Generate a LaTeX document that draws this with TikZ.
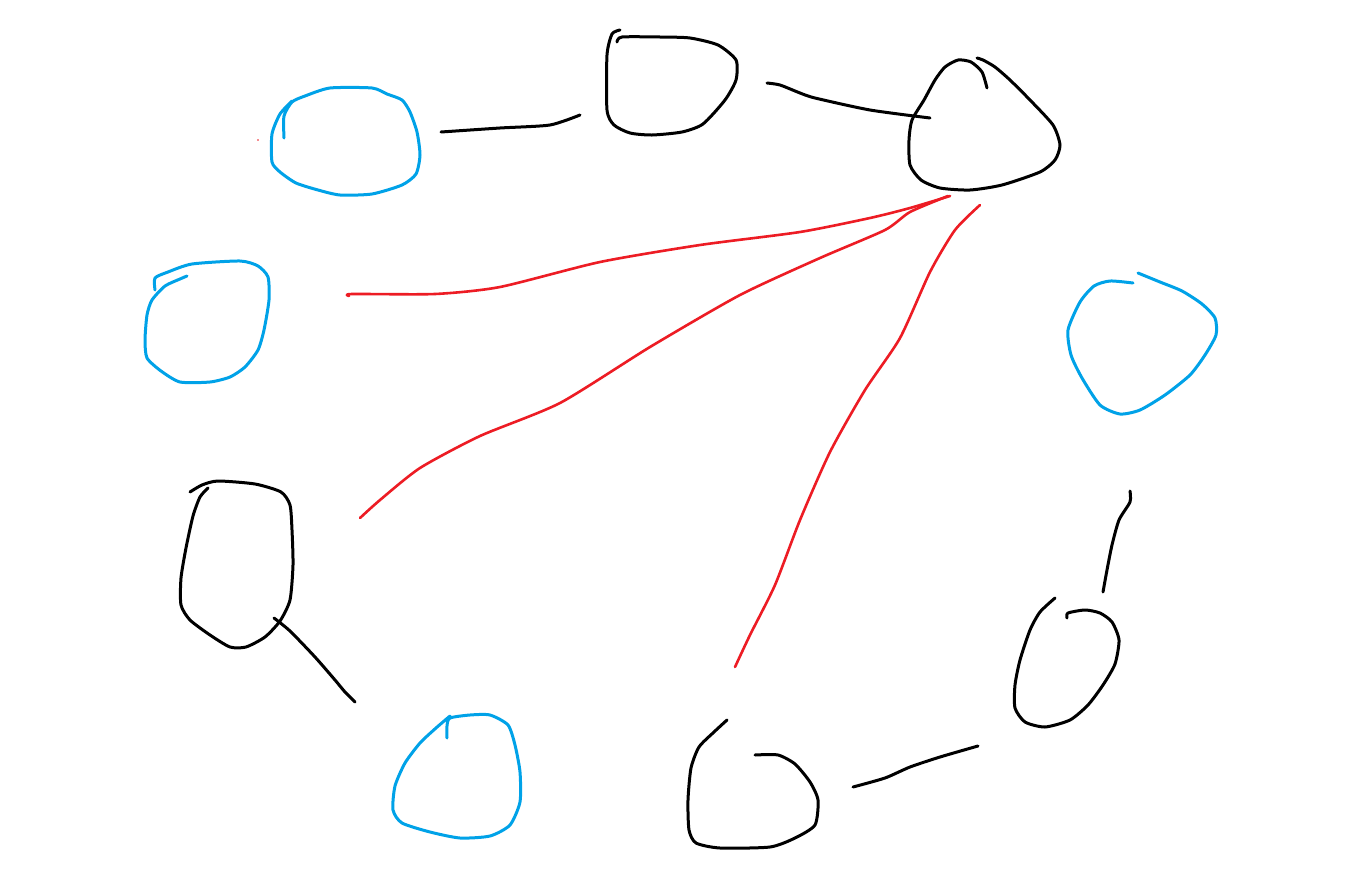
\documentclass[tikz,border=0pt]{standalone}
\definecolor{inkblue}{RGB}{0,162,232}
\definecolor{inkred}{RGB}{237,28,36}
\tikzset{
  ink/.style={line width=3pt, line cap=round, line join=round},
  blueblob/.style={ink, draw=inkblue},
  blackblob/.style={ink, draw=black},
  blackwire/.style={ink, draw=black},
  redwire/.style={line width=2.6pt, line cap=round, line join=round, draw=inkred},
}
\begin{document}
\begin{tikzpicture}[x=1pt,y=-1pt]
\useasboundingbox (0,0) rectangle (1358,881);
\fill[white] (0,0) rectangle (1358,881);

% blob 1 (blue, top left)
\draw[blueblob] plot[smooth, tension=0.4] coordinates {(284,138) (284,116) (292,102) (305,96) (330,88) (372,88) (387,94) (402,100) (410,112) (417,132) (420,155) (416,174) (402,185) (372,194) (340,195) (318,190) (296,183) (280,172) (272,162) (272,134) (280,114) (292,101)};
\fill[inkred] (258,140) circle (0.8);
% blob 2 (black, top middle)
\draw[blackblob] plot[smooth, tension=0.4] coordinates {(617,42) (622,37) (660,37) (690,38) (718,45) (736,60) (736,80) (725,100) (703,124) (682,132) (652,135) (630,133) (614,125) (607,110) (607,55) (612,34) (620,30)};
% blob 3 (black, top right)
\draw[blackblob] plot[smooth, tension=0.4] coordinates {(987,88) (982,72) (971,62) (958,60) (945,67) (935,80) (924,100) (912,120) (909,140) (910,165) (921,180) (940,188) (970,190) (1002,185) (1040,172) (1055,160) (1060,145) (1053,125) (1030,100) (1010,80) (995,67) (983,60) (977,58)};
% blob 4 (blue, left middle)
\draw[blueblob] plot[smooth, tension=0.4] coordinates {(155,290) (155,278) (168,272) (192,264) (240,261) (258,266) (268,277) (269,300) (264,330) (258,350) (245,367) (230,377) (210,382) (180,382) (161,371) (147,358) (145,340) (147,315) (152,300) (165,286) (180,279) (187,276)};
% blob 5 (blue, right)
\draw[blueblob] plot[smooth, tension=0.4] coordinates {(1138,273) (1160,282) (1182,291) (1202,304) (1215,318) (1216,335) (1205,355) (1190,375) (1165,395) (1140,410) (1120,414) (1100,405) (1082,378) (1071,355) (1068,330) (1080,302) (1094,286) (1110,281) (1133,283)};
% blob 6 (black, left lower)
\draw[blackblob] plot[smooth, tension=0.4] coordinates {(190,492) (202,485) (218,481) (255,484) (281,492) (290,505) (292,530) (293,565) (290,600) (280,621) (265,637) (246,647) (230,647) (210,635) (190,620) (181,605) (181,578) (186,548) (193,516) (200,497) (208,488)};
% blob 7 (blue, bottom middle)
\draw[blueblob] plot[smooth, tension=0.4] coordinates {(447,738) (447,726) (450,718) (470,715) (490,715) (508,725) (515,745) (520,772) (520,802) (510,825) (490,836) (460,838) (430,832) (402,823) (393,810) (395,786) (405,763) (420,743) (436,728) (450,716)};
% blob 8 (black, bottom)
\draw[blackblob] plot[smooth, tension=0.4] coordinates {(727,720) (714,732) (699,747) (691,768) (688,800) (689,830) (696,843) (720,848) (770,847) (795,838) (815,825) (818,800) (810,782) (795,764) (778,755) (755,755)};
% blob 9 (black, right lower)
\draw[blackblob] plot[smooth, tension=0.4] coordinates {(1055,598) (1040,612) (1030,630) (1020,660) (1015,685) (1015,708) (1025,722) (1045,727) (1070,720) (1088,705) (1103,685) (1115,664) (1119,640) (1112,622) (1100,613) (1085,610) (1068,613) (1067,618)};

% connector endpoints
\coordinate (c12s) at (441,132); \coordinate (c12e) at (580,115);
\coordinate (c23s) at (767,83);  \coordinate (c23e) at (930,118);
\coordinate (c67s) at (274,618); \coordinate (c67e) at (355,702);
\coordinate (c89s) at (853,787); \coordinate (c89e) at (978,746);
\coordinate (c59s) at (1130,491); \coordinate (c59e) at (1103,592);
\coordinate (r1s) at (349,296); \coordinate (r1e) at (950,196);
\coordinate (r2s) at (360,518); \coordinate (r2e) at (948,196);
\coordinate (r3s) at (735,667); \coordinate (r3e) at (980,205);

% black connectors
\draw[blackwire] plot[smooth, tension=0.4] coordinates {(c12s) (500,128) (550,125) (c12e)};
\draw[blackwire] plot[smooth, tension=0.4] coordinates {(c23s) (780,85) (800,93) (815,98) (870,110) (c23e)};
\draw[blackwire] plot[smooth, tension=0.4] coordinates {(c67s) (290,631) (315,657) (335,680) (345,692) (c67e)};
\draw[blackwire] plot[smooth, tension=0.4] coordinates {(c89s) (885,778) (910,767) (940,757) (c89e)};
\draw[blackwire] plot[smooth, tension=0.4] coordinates {(c59s) (1130,502) (1119,520) (1112,545) (1107,570) (c59e)};

% red connectors
\draw[redwire] plot[smooth, tension=0.4] coordinates {(r1s) (352,294) (435,294) (500,287) (600,262) (700,245) (800,232) (870,218) (910,208) (r1e)};
\draw[redwire] plot[smooth, tension=0.4] coordinates {(r2s) (380,500) (420,468) (480,436) (560,403) (650,347) (740,295) (820,258) (885,230) (910,212) (r2e)};
\draw[redwire] plot[smooth, tension=0.4] coordinates {(r3s) (750,635) (775,585) (800,520) (830,452) (865,390) (900,338) (930,272) (955,230) (r3e)};
\end{tikzpicture}
\end{document}
